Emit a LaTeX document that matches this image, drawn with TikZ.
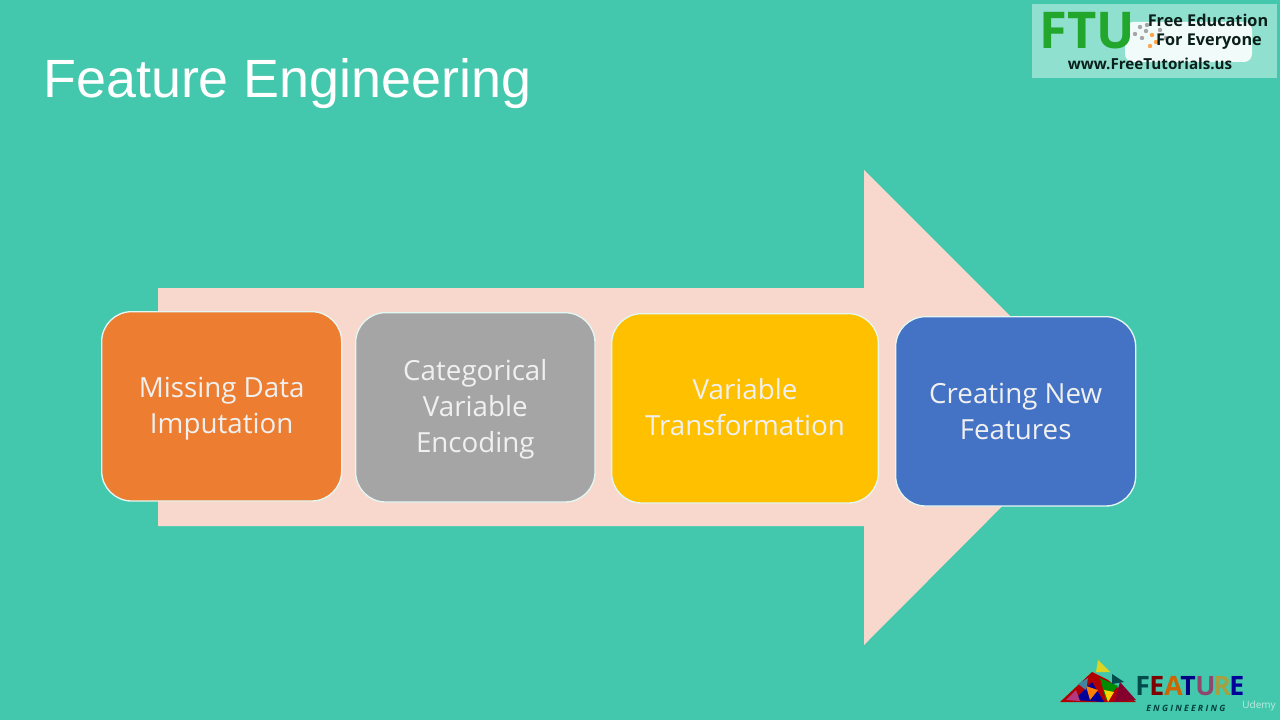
\documentclass[tikz,border=0pt]{standalone}
\usepackage{fontspec}
\setmainfont{Liberation Sans}
\newfontfamily\boxfont{Open Sans}
\newfontfamily\logofont{Open Sans}
\definecolor{bg}{HTML}{44C8AD}
\definecolor{arrowc}{HTML}{F8D8CC}
\definecolor{orangeb}{HTML}{ED7D31}
\definecolor{grayb}{HTML}{A5A5A5}
\definecolor{yellowb}{HTML}{FFC000}
\definecolor{blueb}{HTML}{4472C4}
\definecolor{ftug}{HTML}{22A62C}
\definecolor{panel}{HTML}{8FE0CE}
\tikzset{
  x=0.75pt,y=-0.75pt,
  stepbox/.style={draw=white!85!bg,line width=1pt,rounded corners=22.5pt,align=center,text=white!94!black,
    font=\boxfont\fontsize{20.8}{27}\selectfont,inner sep=0pt,anchor=north west},
  ftutext/.style={font=\logofont\bfseries\fontsize{12.2}{14}\selectfont,text=black!85!bg,inner sep=0pt},
  logoletter/.style={font=\logofont\bfseries\fontsize{20}{22}\selectfont,inner sep=0pt,anchor=west}
}
\newcommand{\downstrut}[1]{\rule{0pt}{#1}}
\begin{document}
\begin{tikzpicture}
\useasboundingbox (0,0) rectangle (1280,720);
\fill[bg] (0,0) rectangle (1280,720);
\node[font=\fontsize{40.4}{46}\selectfont,text=white,anchor=west,inner sep=0pt] (title) at (43,84) {Feature Engineering};
\fill[arrowc] (158,288) -- (864,288) -- (864,170) -- (1101,407) -- (864,645) -- (864,526) -- (158,526) -- cycle;
\node[stepbox,fill=orangeb,minimum width=180pt,minimum height=142pt] (a) at (101,311) {\downstrut{19pt}Missing Data\\Imputation};
\node[stepbox,fill=grayb,minimum width=179.5pt,minimum height=142pt] (b) at (355,312) {\downstrut{19pt}Categorical\\Variable\\Encoding};
\node[stepbox,fill=yellowb,minimum width=200pt,minimum height=142pt] (c) at (611,313) {Variable\\Transformation\rule[-2.2pt]{0pt}{7pt}};
\node[stepbox,fill=blueb,minimum width=180pt,minimum height=142pt] (d) at (895,316) {\downstrut{15.5pt}Creating New\\Features};
% FTU panel
\fill[panel] (1032,4) rectangle (1277,78);
\fill[white!88!panel,rounded corners=6pt] (1125,22) rectangle (1252,62);
\foreach \px/\py/\pc in {1140/27/gray,1146/31/gray,1135/34/gray,1152/35/orange,1142/38/gray,1156/42/orange,1150/46/orange,1160/30/gray,1166/38/gray,1147/25/gray}
  \fill[\pc!70!white] (\px,\py) circle (2.2);
\node[font=\logofont\bfseries\fontsize{38}{40}\selectfont,text=ftug,inner sep=0pt] (ftu) at (1087,31) {FTU};
\node[ftutext] (fe) at (1208,20) {Free Education};
\node[ftutext] (fo) at (1209,42) {For Everyone};
\node[ftutext,font=\logofont\bfseries\fontsize{11.4}{13}\selectfont] (ft) at (1150,64) {www.FreeTutorials.us};
% bottom-right logo
\fill[red!70!black] (1060,702) -- (1092,672) -- (1108,680) -- (1136,702) -- cycle;
\fill[blue!60!black] (1074,700) -- (1092,682) -- (1104,702) -- cycle;
\fill[yellow!85!black] (1096,672) -- (1098,660) -- (1110,672) -- cycle;
\fill[green!55!black] (1100,678) -- (1118,686) -- (1106,700) -- cycle;
\fill[orange] (1086,686) -- (1098,690) -- (1090,700) -- cycle;
\fill[purple!70!black] (1120,682) -- (1136,700) -- (1114,702) -- cycle;
\fill[cyan!60!black] (1078,684) -- (1088,678) -- (1086,690) -- cycle;
\fill[yellow!70!orange] (1104,690) -- (1114,692) -- (1108,702) -- cycle;
\fill[magenta!70!black] (1066,700) -- (1076,690) -- (1080,701) -- cycle;
\fill[teal!60!black] (1112,674) -- (1124,682) -- (1112,684) -- cycle;
\node[logoletter,text=teal!60!black] (l1) at (1135,686) {F};
\node[logoletter,text=red!50!black] (l2) at (1149,686) {E};
\node[logoletter,text=orange!80!black] (l3) at (1164,686) {A};
\node[logoletter,text=blue!50!black] (l4) at (1180,686) {T};
\node[logoletter,text=magenta!50!black] (l5) at (1195,686) {U};
\node[logoletter,text=yellow!60!black] (l6) at (1213,686) {R};
\node[logoletter,text=blue!60!black] (l7) at (1229,686) {E};
\node[font=\logofont\bfseries\itshape\fontsize{6.5}{7}\selectfont,text=teal!50!black,inner sep=0pt,anchor=west] (eng) at (1146,708) {E N G I N E E R I N G};
\node[font=\logofont\fontsize{7.5}{8}\selectfont,text=white!65!bg,inner sep=0pt,anchor=east] (ud) at (1276,706) {Udemy};
\end{tikzpicture}
\end{document}
